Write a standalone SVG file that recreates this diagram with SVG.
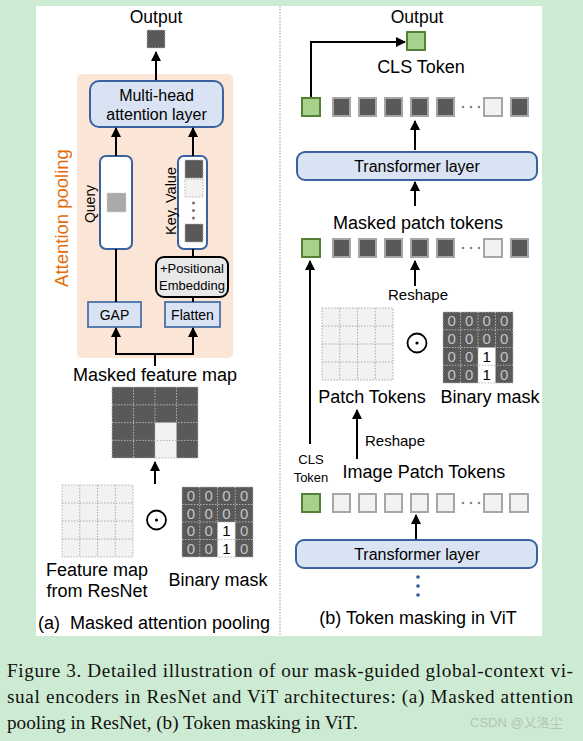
<svg xmlns="http://www.w3.org/2000/svg" width="583" height="741" viewBox="0 0 583 741">
<defs>
<marker id="ah" viewBox="0 0 10 10" refX="9" refY="5" markerWidth="10" markerHeight="10" orient="auto" markerUnits="userSpaceOnUse"><path d="M0,0 L10,5 L0,10 z" fill="#000"/></marker>
<style>
.t{font-family:"Liberation Sans",Arial,sans-serif;fill:#000;text-anchor:middle}
.blue{fill:#dae3f3;stroke:#3b62a0;stroke-width:2}
.ln{stroke:#000;stroke-width:2;fill:none}
.arr{stroke:#000;stroke-width:2;fill:none;marker-end:url(#ah)}
.dk{fill:#595959;stroke:#a6a6a6;stroke-width:2}
.lt{fill:#f2f2f2;stroke:#a6a6a6;stroke-width:2}
.gr{fill:#a9d18e;stroke:#548235;stroke-width:2}
.dot{stroke:#b5b5b5;stroke-width:1;stroke-dasharray:1.5 1.5;fill:none}
.z{font-family:"Liberation Sans",Arial,sans-serif;font-size:15px;fill:#c4c4c4;text-anchor:middle}
.o{font-family:"Liberation Sans",Arial,sans-serif;font-size:15px;fill:#000;text-anchor:middle}
.cap{font-family:"Liberation Serif","Times New Roman",serif;font-size:19.2px;fill:#111}
</style>
</defs>
<rect x="0" y="0" width="583" height="741" fill="#cdebd2"/>
<rect x="36" y="6" width="506" height="630" fill="#fff"/>
<line x1="280" y1="6" x2="280" y2="636" stroke="#999" stroke-width="1" stroke-dasharray="1.5 1.5"/>

<!-- LEFT PANEL -->
<g id="attention-pooling-bg">
<rect x="77" y="74" width="156" height="284" rx="5" fill="#fbe5d6"/>
<text class="t" transform="translate(68,218) rotate(-90)" style="font-size:18.5px;fill:#e36c09">Attention pooling</text>
</g>
<g id="left-output">
<text class="t" x="156" y="23" style="font-size:17.5px">Output</text>
<rect x="147" y="30" width="18" height="18" fill="#595959" stroke="#c0c0c0" stroke-width="1" stroke-dasharray="1.5 1.5"/>
</g>
<g id="mha">
<rect class="blue" x="90" y="81" width="133" height="46" rx="9"/>
<text class="t" x="156.5" y="101" style="font-size:16px">Multi-head</text>
<text class="t" x="156.5" y="120" style="font-size:16px">attention layer</text>
</g>
<g id="query">
<rect x="100" y="156" width="32" height="93" rx="6" fill="#fff" stroke="#3b62a0" stroke-width="2"/>
<rect x="107" y="193" width="19" height="19" fill="#aaaaaa" stroke="#d0d0d0" stroke-width="1" stroke-dasharray="1.5 1.5"/>
<text class="t" transform="translate(95,204) rotate(-90)" style="font-size:14px">Query</text>
</g>
<g id="keyvalue">
<rect x="178" y="156" width="29" height="93" rx="6" fill="#fff" stroke="#3b62a0" stroke-width="2"/>
<rect x="185" y="160" width="18" height="18" fill="#595959" stroke="#b0b0b0" stroke-width="1" stroke-dasharray="1.5 1.5"/>
<rect x="185" y="179" width="18" height="18" fill="#f2f2f2" stroke="#b0b0b0" stroke-width="1" stroke-dasharray="1.5 1.5"/>
<circle cx="193.5" cy="203" r="1.6" fill="#777"/>
<circle cx="193.5" cy="210.5" r="1.6" fill="#777"/>
<circle cx="193.5" cy="218" r="1.6" fill="#777"/>
<rect x="185" y="224" width="18" height="18" fill="#595959" stroke="#b0b0b0" stroke-width="1" stroke-dasharray="1.5 1.5"/>
<text class="t" transform="translate(176,201) rotate(-90)" style="font-size:14.5px">Key, Value</text>
</g>
<g id="posemb">
<rect x="156" y="257" width="72" height="40" rx="8" fill="#e8e8e8" stroke="#000" stroke-width="2"/>
<text class="t" x="192" y="273" style="font-size:13px">+Positional</text>
<text class="t" x="192" y="290" style="font-size:13px">Embedding</text>
</g>
<g id="gap">
<rect x="88" y="302" width="53" height="25" fill="#dae3f3" stroke="#4a72a8" stroke-width="1.8"/>
<text class="t" x="114.5" y="319.5" style="font-size:14px">GAP</text>
</g>
<g id="flatten">
<rect x="165" y="302" width="55" height="25" fill="#dae3f3" stroke="#4a72a8" stroke-width="1.8"/>
<text class="t" x="192.5" y="319.5" style="font-size:14px">Flatten</text>
</g>
<g id="masked-feature-map">
<text class="t" x="155" y="381" style="font-size:18px">Masked feature map</text>
<rect x="112" y="387" width="86" height="71" fill="#595959"/>
<rect x="155" y="422.6" width="21.5" height="35.4" fill="#f2f2f2"/>
<rect class="dot" x="112" y="387" width="86" height="71"/>
<path class="dot" d="M133.5,387V458M155,387V458M176.5,387V458M112,404.8H198M112,422.6H198M112,440.4H198"/>
</g>
<g id="feature-map-resnet">
<rect x="62" y="485" width="71" height="72" fill="#f2f2f2"/>
<rect class="dot" x="62" y="485" width="71" height="72" stroke="#aaa"/>
<path class="dot" d="M79.75,485V557M97.5,485V557M115.25,485V557M62,503H133M62,521H133M62,539H133" style="stroke:#aaa"/>
<text class="t" x="97" y="576" style="font-size:18px">Feature map</text>
<text class="t" x="97" y="597" style="font-size:18px">from ResNet</text>
</g>
<g id="odot-left">
<circle cx="156.5" cy="520" r="9.5" fill="none" stroke="#000" stroke-width="1.8"/>
<circle cx="156.5" cy="520" r="1.6" fill="#000"/>
</g>
<g id="binary-mask-left">
<rect x="182" y="487" width="71" height="70" fill="#595959"/>
<rect x="217.5" y="522" width="17.75" height="35" fill="#fff"/>
<rect class="dot" x="182" y="487" width="71" height="70"/>
<path class="dot" d="M199.75,487V557M217.5,487V557M235.25,487V557M182,504.5H253M182,522H253M182,539.5H253"/>
<text class="z" x="190.9" y="501.2">0</text><text class="z" x="208.6" y="501.2">0</text><text class="z" x="226.4" y="501.2">0</text><text class="z" x="244.1" y="501.2">0</text>
<text class="z" x="190.9" y="518.7">0</text><text class="z" x="208.6" y="518.7">0</text><text class="z" x="226.4" y="518.7">0</text><text class="z" x="244.1" y="518.7">0</text>
<text class="z" x="190.9" y="536.2">0</text><text class="z" x="208.6" y="536.2">0</text><text class="o" x="226.4" y="536.2">1</text><text class="z" x="244.1" y="536.2">0</text>
<text class="z" x="190.9" y="553.7">0</text><text class="z" x="208.6" y="553.7">0</text><text class="o" x="226.4" y="553.7">1</text><text class="z" x="244.1" y="553.7">0</text>
<text class="t" x="218" y="586" style="font-size:18px">Binary mask</text>
</g>
<text class="t" x="154" y="629" style="font-size:18px" xml:space="preserve">(a)  Masked attention pooling</text>

<!-- RIGHT PANEL -->
<g id="right-output">
<text class="t" x="417" y="23" style="font-size:17.5px">Output</text>
<rect class="gr" x="407" y="32" width="18" height="18"/>
<text class="t" x="421" y="73" style="font-size:18px">CLS Token</text>
</g>
<g id="tokens-top">
<rect class="gr" x="302" y="98" width="18" height="18"/>
<rect class="dk" x="333" y="98" width="17" height="18"/>
<rect class="dk" x="359" y="98" width="17" height="18"/>
<rect class="dk" x="385" y="98" width="17" height="18"/>
<rect class="dk" x="411" y="98" width="17" height="18"/>
<rect class="dk" x="437" y="98" width="17" height="18"/>
<circle cx="463" cy="107" r="1.3" fill="#888"/><circle cx="471" cy="107" r="1.3" fill="#888"/><circle cx="479" cy="107" r="1.3" fill="#888"/>
<rect class="lt" x="484" y="98" width="18" height="18"/>
<rect class="dk" x="511" y="98" width="17" height="18"/>
</g>
<g id="transformer-top">
<rect class="blue" x="297" y="152" width="240" height="28" rx="8"/>
<text class="t" x="417" y="172" style="font-size:16px">Transformer layer</text>
</g>
<g id="tokens-mid">
<text class="t" x="418" y="229" style="font-size:18px">Masked patch tokens</text>
<rect class="gr" x="302" y="239" width="18" height="18"/>
<rect class="dk" x="333" y="239" width="17" height="18"/>
<rect class="dk" x="359" y="239" width="17" height="18"/>
<rect class="dk" x="385" y="239" width="17" height="18"/>
<rect class="dk" x="411" y="239" width="17" height="18"/>
<rect class="dk" x="437" y="239" width="17" height="18"/>
<circle cx="463" cy="248" r="1.3" fill="#888"/><circle cx="471" cy="248" r="1.3" fill="#888"/><circle cx="479" cy="248" r="1.3" fill="#888"/>
<rect class="lt" x="484" y="239" width="18" height="18"/>
<rect class="dk" x="511" y="239" width="17" height="18"/>
</g>
<text class="t" x="418" y="300" style="font-size:15px">Reshape</text>
<g id="patch-tokens">
<rect x="322" y="308" width="71" height="72" fill="#f2f2f2"/>
<rect class="dot" x="322" y="308" width="71" height="72" style="stroke:#aaa"/>
<path class="dot" d="M339.75,308V380M357.5,308V380M375.25,308V380M322,326H393M322,344H393M322,362H393" style="stroke:#aaa"/>
<text class="t" x="372" y="403" style="font-size:18px">Patch Tokens</text>
</g>
<g id="odot-right">
<circle cx="417" cy="343" r="9.5" fill="none" stroke="#000" stroke-width="1.8"/>
<circle cx="417" cy="343" r="1.6" fill="#000"/>
</g>
<g id="binary-mask-right">
<rect x="443" y="312" width="70" height="71" fill="#595959"/>
<rect x="478" y="347.5" width="17.5" height="35.5" fill="#fff"/>
<rect class="dot" x="443" y="312" width="70" height="71"/>
<path class="dot" d="M460.5,312V383M478,312V383M495.5,312V383M443,329.75H513M443,347.5H513M443,365.25H513"/>
<text class="z" x="451.75" y="326.4">0</text><text class="z" x="469.25" y="326.4">0</text><text class="z" x="486.75" y="326.4">0</text><text class="z" x="504.25" y="326.4">0</text>
<text class="z" x="451.75" y="344.1">0</text><text class="z" x="469.25" y="344.1">0</text><text class="z" x="486.75" y="344.1">0</text><text class="z" x="504.25" y="344.1">0</text>
<text class="z" x="451.75" y="361.9">0</text><text class="z" x="469.25" y="361.9">0</text><text class="o" x="486.75" y="361.9">1</text><text class="z" x="504.25" y="361.9">0</text>
<text class="z" x="451.75" y="379.6">0</text><text class="z" x="469.25" y="379.6">0</text><text class="o" x="486.75" y="379.6">1</text><text class="z" x="504.25" y="379.6">0</text>
<text class="t" x="490" y="403" style="font-size:18px">Binary mask</text>
</g>
<text class="t" x="365" y="446" style="font-size:15px;text-anchor:start">Reshape</text>
<text class="t" x="311" y="464" style="font-size:13px">CLS</text>
<text class="t" x="311" y="482" style="font-size:13px">Token</text>
<text class="t" x="424" y="478" style="font-size:18px">Image Patch Tokens</text>
<g id="tokens-bottom">
<rect class="gr" x="302" y="494" width="18" height="18"/>
<rect class="lt" x="333" y="494" width="17" height="18"/>
<rect class="lt" x="359" y="494" width="17" height="18"/>
<rect class="lt" x="385" y="494" width="17" height="18"/>
<rect class="lt" x="411" y="494" width="17" height="18"/>
<rect class="lt" x="437" y="494" width="17" height="18"/>
<circle cx="463" cy="503" r="1.3" fill="#888"/><circle cx="471" cy="503" r="1.3" fill="#888"/><circle cx="479" cy="503" r="1.3" fill="#888"/>
<rect class="lt" x="484" y="494" width="18" height="18"/>
<rect class="lt" x="510" y="494" width="18" height="18"/>
</g>
<g id="transformer-bottom">
<rect class="blue" x="296" y="540" width="241" height="28" rx="8"/>
<text class="t" x="417" y="560" style="font-size:16px">Transformer layer</text>
<circle cx="418" cy="577" r="1.8" fill="#2f5597"/>
<circle cx="418" cy="586" r="1.8" fill="#2f5597"/>
<circle cx="418" cy="595" r="1.8" fill="#2f5597"/>
</g>
<text class="t" x="418" y="624" style="font-size:18px">(b) Token masking in ViT</text>

<!-- CONNECTORS -->
<g id="connectors">
<line class="arr" x1="156" y1="80" x2="156" y2="52"/>
<line class="arr" x1="116" y1="156" x2="116" y2="128"/>
<line class="arr" x1="193" y1="156" x2="193" y2="128"/>
<line class="ln" x1="116" y1="249" x2="116" y2="302"/>
<line class="ln" x1="193" y1="249" x2="193" y2="257"/>
<line class="ln" x1="193" y1="297" x2="193" y2="302"/>
<path class="ln" d="M155,366V354M115,354H194"/>
<line class="arr" x1="116" y1="354" x2="116" y2="328"/>
<line class="arr" x1="193" y1="354" x2="193" y2="328"/>
<line class="arr" x1="155" y1="484" x2="155" y2="462"/>
<path class="arr" d="M311,97V42H405"/>
<line class="arr" x1="415" y1="150" x2="415" y2="121"/>
<line class="arr" x1="415" y1="206" x2="415" y2="182"/>
<line class="arr" x1="415" y1="286" x2="415" y2="261"/>
<line class="arr" x1="310" y1="444" x2="310" y2="261"/>
<line class="arr" x1="357" y1="459" x2="357" y2="410"/>
<line class="arr" x1="416" y1="539" x2="416" y2="515"/>
</g>

<!-- CAPTION -->
<text class="cap" x="7" y="677" textLength="566" lengthAdjust="spacing">Figure 3. Detailed illustration of our mask-guided global-context vi-</text>
<text class="cap" x="7" y="703" textLength="566" lengthAdjust="spacing">sual encoders in ResNet and ViT architectures: (a) Masked attention</text>
<text class="cap" x="7" y="729">pooling in ResNet, (b) Token masking in ViT.</text>
<text x="470" y="727" style="font-family:'Liberation Sans','Noto Sans CJK SC',sans-serif;font-size:13px;fill:#b4c4b8">CSDN @乂洛尘</text>
</svg>
